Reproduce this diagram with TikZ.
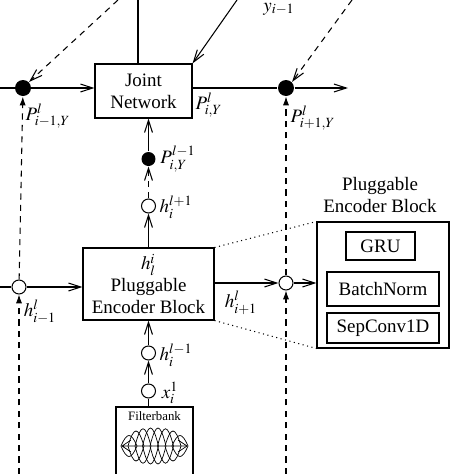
\documentclass[tikz,border=0pt]{standalone}
\usepackage{mathptmx}
\usepackage{fontspec}
\setmainfont{Liberation Serif}
\usetikzlibrary{arrows.meta, positioning}

\begin{document}
\begin{tikzpicture}[x=0.02cm, y=-0.02cm, line width=0.6pt,
		every node/.style={font=\fontsize{10.8}{12.5}\selectfont},
		blk/.style={draw, rectangle, align=center, inner sep=0pt},
		hcirc/.style={draw, circle, fill=white, minimum size=0.28cm, inner sep=0pt},
		pdot/.style={circle, fill=black, minimum size=0.32cm, inner sep=0pt},
		oarr/.style={-{Straight Barb[length=7pt, width=4.5pt]}},
		farr/.style={-{Latex[length=5pt, width=3.5pt]}},
		dsh/.style={dash pattern=on 3.5pt off 3pt}]
		\useasboundingbox (0,0) rectangle (474,474);
		\clip (0,0) rectangle (474,474);
		% Blocks:
		\node[blk, minimum width=1.94cm, minimum height=1.08cm] (joint) at (143.5,91){Joint\\Network};
		\node[blk, minimum width=2.62cm, minimum height=1.44cm] (enc) at (148.5,284){$h^{i}_{l}$\\Pluggable\\Encoder Block};
		\node[blk, minimum width=2.64cm, minimum height=2.52cm] (outer) at (383,285){};
		\node[align=center] (outtitle) at (380,195){Pluggable\\Encoder Block};
		\node[blk, minimum width=1.38cm, minimum height=0.56cm] (gru) at (380.5,246){GRU};
		\node[blk, minimum width=2.24cm, minimum height=0.68cm] (bnorm) at (383,289){BatchNorm};
		\node[blk, minimum width=2.24cm, minimum height=0.6cm] (sepconv) at (383,328){SepConv1D};
		\node[blk, minimum width=1.54cm, minimum height=1.66cm] (fbank) at (154.5,448.5){};
		\node[font=\fontsize{7.3}{9}\selectfont] (fblabel) at (154.5,416){Filterbank};
		% Points:
		\node[pdot] (pl) at (23,88){};
		\node[pdot] (pr) at (286,88){};
		\node[pdot, minimum size=0.28cm] (pmid) at (148.5,159){};
		\node[hcirc] (hl) at (19,287){};
		\node[hcirc] (hr) at (286,283){};
		\node[hcirc] (hup) at (148.5,206){};
		\node[hcirc] (hin) at (148.5,353){};
		\node[hcirc] (xin) at (148.5,391){};
		\coordinate (jtop) at (138,0);
		\coordinate (yin) at (237,0);
		\coordinate (lin) at (118,0);
		\coordinate (rin) at (352,0);
		\coordinate (lstart) at (0,88);
		\coordinate (rend) at (348,88);
		\coordinate (hstart) at (0,287);
		\coordinate (lbot) at (19,474);
		\coordinate (rbot) at (286,474);
		% Paths and arrows:
		\draw (jtop) -- (jtop |- joint.north);
		\draw[oarr] (yin) -- (joint.north east);
		\draw[dsh, oarr] (lin) -- (pl.north east);
		\draw[dsh, oarr] (rin) -- (pr.north east);
		\draw[oarr] (lstart) -- (lstart -| joint.west);
		\draw (joint.east |- pr) -- (pr);
		\draw[oarr] (pr) -- (rend);
		\draw[dsh, farr] (hl) -- (pl);
		\draw[dsh, farr] (lbot) -- (hl);
		\draw[dsh, farr] (hr) -- (pr);
		\draw[dsh, farr] (rbot) -- (hr);
		\draw (hstart) -- (hl);
		\draw[oarr] (hl) -- (enc.west |- hl);
		\draw[oarr] (enc.east |- hr) -- (hr);
		\draw[oarr] (hr) -- (outer.west |- hr);
		\draw[oarr] (enc.north) -- (hup);
		\draw[dsh, oarr] (hup) -- (pmid);
		\draw[oarr] (pmid) -- (pmid |- joint.south);
		\draw[oarr] (hin) -- (enc.south);
		\draw[oarr] (xin) -- (hin);
		\draw (fbank.north -| xin) -- (xin);
		\draw[dotted] (enc.north east) -- (outer.north west);
		\draw[dotted] (enc.south east) -- (outer.south west);
		% Filter shapes:
		\foreach \c/\h in {129/14, 136/20, 143/23, 150.5/24, 158/24, 165.5/23, 173/20, 180/14}
			\draw[line width=0.4pt] (\c-8,446) .. controls (\c-2,446-\h) and (\c+2,446-\h) .. (\c+8,446)
				.. controls (\c+2,446+\h) and (\c-2,446+\h) .. (\c-8,446);
		\draw[line width=0.4pt] (131,440) -- (122,446) -- (131,452) (122,446) -- (187,446);
		\draw[line width=0.4pt] (178,440) -- (187,446) -- (178,452);
		% Labels:
		\node (ylab) at (279,9){$y_{i-1}$};
		\node (pllab) at (48,116){$P^{l}_{i-1,Y}$};
		\node (pjlab) at (209,105){$P^{l}_{i,Y}$};
		\node (prlab) at (313,118){$P^{l}_{i+1,Y}$};
		\node (pmlab) at (178,159){$P^{l-1}_{i,Y}$};
		\node (huplab) at (176,207){$h^{l+1}_{i}$};
		\node (hllab) at (40,312){$h^{l}_{i-1}$};
		\node (hrlab) at (241,303){$h^{l}_{i+1}$};
		\node (hinlab) at (176,355){$h^{l-1}_{i}$};
		\node (xinlab) at (170,393){$x^{1}_{i}$};
	\end{tikzpicture}
\end{document}
